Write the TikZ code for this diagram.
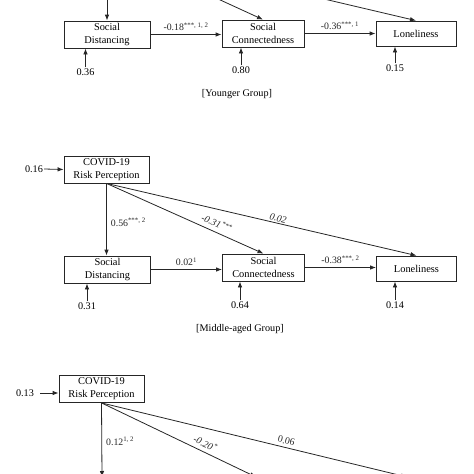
\documentclass[tikz,border=0pt]{standalone}
\usepackage{fontspec}
\setmainfont{Liberation Serif}
\usetikzlibrary{arrows.meta}
\tikzset{varbox/.style={draw=black!85, line width=0.8pt, align=center, inner sep=1pt, minimum width=85pt, minimum height=27pt, font=\fontsize{10.4}{12.8}\selectfont}}
\tikzset{errlabel/.style={inner sep=1pt, font=\fontsize{10.2}{12}\selectfont}}
\tikzset{coef/.style={inner sep=1pt, font=\fontsize{9.8}{12}\selectfont}}
\tikzset{pathline/.style={->, line width=0.8pt, black!85}}

\begin{document}
\begin{tikzpicture}[x=1pt, y=-1pt, >={Latex[length=6pt,width=4.5pt]}]
\useasboundingbox (0,0) rectangle (474,474);
\clip (0,0) rectangle (474,474);

\coordinate (rp1) at (107,-52);
\node[varbox, minimum width=86pt] (sd1) at (107,34.5) {Social\\Distancing};
\node[varbox, minimum width=82pt] (sc1) at (263,33.5) {Social\\Connectedness};
\node[varbox, minimum width=80pt, minimum height=25pt] (lon1) at (416,33.5) {Loneliness};

\node[errlabel] (esd1) at (85.5,72) {0.36};
\node[errlabel] (esc1) at (241,70) {0.80};
\node[errlabel] (elon1) at (395,68) {0.15};
\node[errlabel] (grp1) at (237,94) {[Younger Group]};

\draw[pathline] (rp1) -- (sd1.north);
\draw[pathline] (rp1) -- (sc1.north);
\draw[pathline] (rp1) -- (lon1.north);
\draw[pathline] (sd1.east) -- (sd1.east -| sc1.west) node[coef, midway, above=2pt] {-0.18\textsuperscript{***, 1, 2}};
\draw[pathline] (sc1.east) -- (sc1.east -| lon1.west) node[coef, midway, above=2pt] {-0.36\textsuperscript{***, 1}};
\draw[pathline] (esd1.north) -- (esd1.north |- sd1.south);
\draw[pathline] (esc1.north) -- (esc1.north |- sc1.south);
\draw[pathline] (elon1.north) -- (elon1.north |- lon1.south);

\node[varbox] (rp2) at (106.5,169.5) {COVID-19\\Risk Perception};
\node[varbox, minimum width=86pt] (sd2) at (107.5,269.5) {Social\\Distancing};
\node[varbox, minimum width=82pt] (sc2) at (263.5,267.5) {Social\\Connectedness};
\node[varbox, minimum width=80pt, minimum height=25pt] (lon2) at (416.5,268.5) {Loneliness};

\node[errlabel] (in2) at (34,169) {0.16};
\node[errlabel] (esd2) at (87,306) {0.31};
\node[errlabel] (esc2) at (240,305) {0.64};
\node[errlabel] (elon2) at (395,305) {0.14};
\node[errlabel] (grp2) at (240,329) {[Middle-aged Group]};

\draw[pathline] (in2.east) -- (rp2.west);
\draw[pathline] (rp2.south) -- (rp2.south |- sd2.north) node[coef, pos=0.54, right=3pt] {0.56\textsuperscript{***, 2}};
\draw[pathline] (rp2.south) -- (sc2.north) node[coef, sloped, pos=0.68, above=3pt] {\itshape -0.31\/\kern0.6pt\textsuperscript{***}};
\draw[pathline] (rp2.south) -- (lon2.north) node[coef, sloped, pos=0.55, above=0pt] {\itshape 0.02};
\draw[pathline] (sd2.east) -- (sd2.east -| sc2.west) node[coef, midway, above=2pt] {0.02\textsuperscript{1}};
\draw[pathline] (sc2.east) -- (sc2.east -| lon2.west) node[coef, midway, above=2pt] {-0.38\textsuperscript{***, 2}};
\draw[pathline] (esd2.north) -- (esd2.north |- sd2.south);
\draw[pathline] (esc2.north) -- (esc2.north |- sc2.south);
\draw[pathline] (elon2.north) -- (elon2.north |- lon2.south);

\node[varbox] (rp3) at (101.5,389) {COVID-19\\Risk Perception};
\coordinate (sd3) at (102,477);
\coordinate (sc3) at (256,477);
\coordinate (lon3) at (407,477);

\node[errlabel] (in3) at (25,393) {0.13};

\draw[pathline] ([xshift=5pt]in3.east) -- (in3.east -| rp3.west);
\draw[pathline] (rp3.south) -- (sd3) node[coef, pos=0.52, right=3pt] {0.12\textsuperscript{1, 2}};
\draw[pathline] (rp3.south) -- (sc3) node[coef, sloped, pos=0.65, above=3pt] {\itshape -0.20\/\kern0.6pt\textsuperscript{*}};
\draw[pathline] (rp3.south) -- (lon3) node[coef, sloped, pos=0.60, above=2pt] {0.06};

\end{tikzpicture}
\end{document}
